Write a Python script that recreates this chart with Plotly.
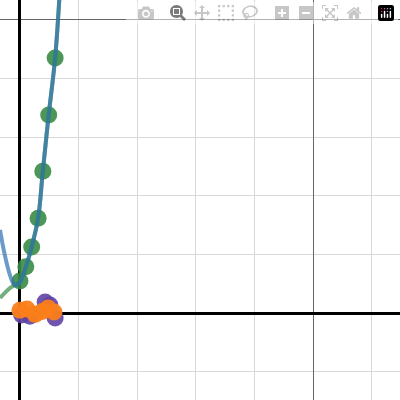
import plotly.graph_objects as go

# data (in graph units)
green_x = [0.0, 0.1, 0.2, 0.31, 0.39, 0.49, 0.6]
green_y = [0.55, 0.79, 1.13, 1.62, 2.42, 3.38, 4.35]
green_curve_x = [-0.34, -0.17, 0.0, 0.1, 0.2, 0.31, 0.39, 0.49, 0.6, 0.68]
green_curve_y = [0.26, 0.43, 0.55, 0.79, 1.13, 1.62, 2.42, 3.38, 4.35, 5.5]
blue_curve_x = [-0.34, -0.26, -0.17, -0.09, 0.0, 0.1, 0.2, 0.31, 0.39, 0.49, 0.6, 0.68]
blue_curve_y = [1.42, 1.0, 0.65, 0.48, 0.53, 0.79, 1.13, 1.62, 2.42, 3.38, 4.35, 5.5]
purple_x = [0.03, 0.17, 0.43, 0.51, 0.6]
purple_y = [-0.03, -0.05, 0.19, 0.14, -0.08]
orange_x = [0.0, 0.12, 0.26, 0.38, 0.48, 0.58]
orange_y = [0.05, 0.07, -0.02, 0.03, 0.09, 0.02]

fig = go.Figure()
fig.add_trace(go.Scatter(x=green_x, y=green_y, mode='markers', marker=dict(color='rgba(56,140,70,0.9)', size=17)))
fig.add_trace(go.Scatter(x=green_curve_x, y=green_curve_y, mode='lines', line=dict(color='rgba(56,140,70,0.7)', width=4, shape='spline')))
fig.add_trace(go.Scatter(x=blue_curve_x, y=blue_curve_y, mode='lines', line=dict(color='rgba(45,112,179,0.7)', width=4, shape='spline')))
fig.add_trace(go.Scatter(x=purple_x, y=purple_y, mode='markers', marker=dict(color='rgba(96,66,166,0.9)', size=17)))
fig.add_trace(go.Scatter(x=orange_x, y=orange_y, mode='markers', marker=dict(color='rgba(250,126,25,0.95)', size=17)))

ax = dict(dtick=5, tick0=0, gridcolor='#666', gridwidth=1, showticklabels=False,
          zeroline=True, zerolinecolor='black', zerolinewidth=2.5,
          minor=dict(dtick=1, gridcolor='#d8d8d8', gridwidth=1), showline=False)
fig.update_xaxes(range=[-0.34, 6.48], **ax)
fig.update_yaxes(range=[-1.48, 5.34], **ax)
fig.update_layout(width=400, height=400, margin=dict(l=0, r=0, t=0, b=0),
                  plot_bgcolor='white', paper_bgcolor='white', showlegend=False)
fig.write_html("out.html", post_script="document.body.style.margin='0';")
